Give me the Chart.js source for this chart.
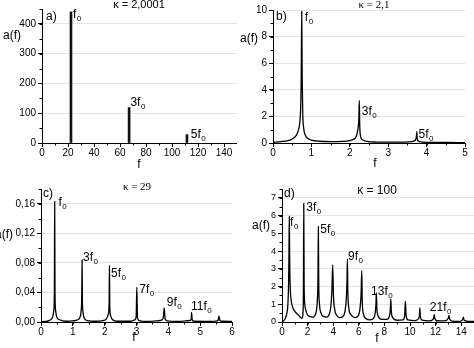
<!DOCTYPE html>
<html>
<head>
<meta charset="utf-8">
<script src="https://cdn.jsdelivr.net/npm/chart.js@4/dist/chart.umd.min.js"></script>
<style>
  html, body { margin: 0; padding: 0; background: #fff; }
  #wrap { position: relative; width: 474px; height: 348px; overflow: hidden; }
  canvas { position: absolute; }
</style>
</head>
<body>
<div id="wrap">
  <canvas id="ca" width="237" height="174" style="left:0;top:0"></canvas>
  <canvas id="cb" width="237" height="174" style="left:237px;top:0"></canvas>
  <canvas id="cc" width="237" height="174" style="left:0;top:174px"></canvas>
  <canvas id="cd" width="237" height="174" style="left:237px;top:174px"></canvas>
</div>
<script>
// a) kappa = 2,0001 : discrete lines
const aFreq = [22.3, 67, 111.5]
const aAmp = [440, 119, 28]

// b) kappa = 2,1
const bFreq = [0, 0.2, 0.4, 0.5, 0.6, 0.65, 0.7, 0.72, 0.735, 0.748, 0.76, 0.775, 0.8, 0.84, 0.9, 1.0, 1.2, 1.5, 1.8, 2.0, 2.1, 2.17, 2.21, 2.235, 2.247, 2.258, 2.28, 2.33, 2.45, 2.7, 3.0, 3.4, 3.6, 3.68, 3.72, 3.735, 3.745, 3.757, 3.8, 3.9, 4.2, 4.6, 5.0]
const bAmp = [0.05, 0.1, 0.18, 0.3, 0.55, 0.85, 1.6, 2.6, 5.0, 9.9, 5.0, 2.2, 1.1, 0.6, 0.35, 0.22, 0.13, 0.1, 0.12, 0.18, 0.28, 0.5, 1.0, 1.8, 3.2, 1.4, 0.5, 0.25, 0.12, 0.07, 0.06, 0.07, 0.1, 0.16, 0.3, 0.5, 0.85, 0.3, 0.12, 0.07, 0.05, 0.04, 0.03]

// c) kappa = 29
const cFreq = [0, 0.2, 0.3, 0.36, 0.4, 0.42, 0.43, 0.44, 0.46, 0.5, 0.58, 0.8, 1.0, 1.15, 1.22, 1.26, 1.28, 1.29, 1.3, 1.32, 1.36, 1.45, 1.7, 1.95, 2.05, 2.11, 2.14, 2.15, 2.16, 2.19, 2.25, 2.4, 2.8, 2.95, 2.99, 3.01, 3.03, 3.08, 3.3, 3.75, 3.84, 3.87, 3.9, 3.97, 4.3, 4.68, 4.72, 4.73, 4.75, 4.8, 5.3, 5.56, 5.59, 5.62, 5.7, 6.0]
const cAmp = [0.0005, 0.001, 0.003, 0.006, 0.015, 0.04, 0.163, 0.04, 0.015, 0.006, 0.003, 0.001, 0.0015, 0.003, 0.006, 0.015, 0.035, 0.084, 0.03, 0.013, 0.005, 0.002, 0.001, 0.002, 0.004, 0.01, 0.025, 0.076, 0.022, 0.008, 0.003, 0.001, 0.001, 0.003, 0.008, 0.047, 0.006, 0.002, 0.0008, 0.002, 0.005, 0.019, 0.004, 0.0015, 0.0008, 0.002, 0.004, 0.013, 0.003, 0.001, 0.0008, 0.002, 0.008, 0.002, 0.001, 0.0008]

// d) kappa = 100
const dFreq = [0, 0.1, 0.25, 0.38, 0.46, 0.51, 0.54, 0.57, 0.6, 0.64, 0.72, 0.85, 1.0, 1.2, 1.4, 1.55, 1.63, 1.67, 1.7, 1.73, 1.78, 1.88, 2.0, 2.2, 2.4, 2.55, 2.68, 2.76, 2.81, 2.84, 2.87, 2.93, 3.05, 3.25, 3.5, 3.7, 3.82, 3.9, 3.96, 4.02, 4.12, 4.3, 4.5, 4.75, 4.92, 5.03, 5.08, 5.11, 5.14, 5.22, 5.4, 5.7, 5.95, 6.1, 6.18, 6.23, 6.27, 6.35, 6.55, 6.9, 7.15, 7.28, 7.34, 7.37, 7.41, 7.5, 7.8, 8.2, 8.4, 8.47, 8.5, 8.54, 8.65, 9.0, 9.45, 9.58, 9.64, 9.7, 9.85, 10.4, 10.68, 10.74, 10.77, 10.81, 10.95, 11.5, 11.8, 11.87, 11.9, 11.94, 12.1, 12.7, 12.98, 13.05, 13.1, 13.3, 13.9, 14.12, 14.17, 14.22, 14.5, 15]
const dAmp = [0, 0.05, 0.2, 0.5, 1.0, 2.0, 3.5, 5.95, 3.5, 2.0, 1.2, 0.8, 0.6, 0.45, 0.3, 0.2, 0.4, 1.5, 6.7, 2.0, 1.0, 0.6, 0.4, 0.3, 0.28, 0.35, 0.6, 1.2, 2.5, 5.38, 2.2, 1.0, 0.5, 0.3, 0.28, 0.45, 0.9, 1.8, 3.22, 1.5, 0.7, 0.35, 0.25, 0.3, 0.6, 1.4, 2.4, 3.56, 1.8, 0.8, 0.4, 0.25, 0.35, 0.8, 1.6, 2.9, 1.2, 0.5, 0.2, 0.12, 0.2, 0.5, 1.0, 1.65, 0.8, 0.35, 0.15, 0.15, 0.35, 0.8, 1.3, 0.6, 0.25, 0.1, 0.12, 0.35, 1.18, 0.35, 0.12, 0.08, 0.2, 0.4, 0.8, 0.3, 0.1, 0.06, 0.15, 0.3, 0.42, 0.2, 0.07, 0.06, 0.2, 0.37, 0.15, 0.05, 0.04, 0.15, 0.28, 0.1, 0.04, 0.03]

const SANS = "'Liberation Sans', Arial, sans-serif"
const SERIF = "'Liberation Serif', 'Times New Roman', serif"

const pts = (xs, ys) => xs.map((x, i) => ({x: x, y: ys[i]}))
const comma = d => v => v.toFixed(d).replace('.', ',')

function drawSub(ctx, x, y, main, sub, size) {
    ctx.font = size + 'px ' + SANS
    ctx.textAlign = 'left'
    ctx.textBaseline = 'alphabetic'
    ctx.fillText(main, x, y)
    const w = ctx.measureText(main).width
    ctx.font = Math.round(size * 0.66) + 'px ' + SANS
    ctx.fillText(sub, x + w + 0.5, y + 3)
}

const texts = {
    id: 'texts',
    afterDraw(chart, args, o) {
        const ctx = chart.ctx
        const xs = chart.scales.x, ys = chart.scales.y
        const area = chart.chartArea
        ctx.save()
        ctx.fillStyle = '#000'
        ctx.strokeStyle = '#000'
        ctx.lineWidth = 1
        // minor ticks
        ctx.beginPath()
        for (let v = xs.min; v <= xs.max + 1e-9; v += o.minorX) {
            const px = Math.round(xs.getPixelForValue(v)) + 0.5
            ctx.moveTo(px, area.bottom)
            ctx.lineTo(px, area.bottom + 2.5)
        }
        for (let v = ys.min; v <= ys.max + 1e-9; v += o.minorY) {
            const py = Math.round(ys.getPixelForValue(v)) + 0.5
            ctx.moveTo(area.left, py)
            ctx.lineTo(area.left - 2.5, py)
        }
        ctx.stroke()
        // peak labels, in data units
        for (const n of o.notes) {
            drawSub(ctx, xs.getPixelForValue(n.x), ys.getPixelForValue(n.y), n.main, '0', 12)
        }
        // fixed texts
        for (const t of o.fixed) {
            ctx.font = t.size + 'px ' + (t.serif ? SERIF : SANS)
            ctx.textAlign = t.align || 'left'
            ctx.textBaseline = 'alphabetic'
            ctx.fillText(t.text, t.x, t.y)
        }
        ctx.restore()
    }
}

function axes(o) {
    const keep = step => s => {
        s.ticks = s.ticks.filter(t => Math.abs(t.value / step - Math.round(t.value / step)) < 1e-6)
    }
    return {
        x: {
            type: 'linear', min: 0, max: o.xMax, offset: false,
            afterBuildTicks: keep(o.xStep),
            afterFit: s => { s.height = 174 - o.bottom },
            ticks: {stepSize: o.xStep, includeBounds: false, font: {family: SANS, size: 10}, color: '#000',
                    padding: 0, maxRotation: 0, autoSkip: false, callback: o.xFmt || (v => v)},
            grid: {drawOnChartArea: false, offset: false, tickLength: 4, tickColor: '#000'},
            border: {color: '#000', width: 1}
        },
        y: {
            min: 0, max: o.yMax,
            afterBuildTicks: keep(o.yStep),
            afterFit: s => { s.width = o.left },
            ticks: {stepSize: o.yStep, includeBounds: false, font: {family: SANS, size: o.ySize || 10}, color: '#000',
                    padding: 2, autoSkip: false, callback: o.yFmt || (v => v)},
            grid: {color: '#e4e4e4', lineWidth: 1, tickLength: 4, tickColor: '#000'},
            border: {color: '#000', width: 1}
        }
    }
}

function make(id, type, datasets, o, plug) {
    return new Chart(document.getElementById(id), {
        type: type,
        data: {datasets: datasets},
        options: {
            responsive: false,
            animation: false,
            layout: {padding: {top: o.top, right: 237 - o.right, left: 0, bottom: 0}},
            plugins: {legend: {display: false}, tooltip: {enabled: false}, texts: plug},
            scales: axes(o)
        },
        plugins: [texts]
    })
}

const line = (xs, ys) => ({
    data: pts(xs, ys), borderColor: '#000', borderWidth: 1.3, pointRadius: 0,
    cubicInterpolationMode: 'monotone', fill: false
})

make('ca', 'bar', [{data: pts(aFreq, aAmp), backgroundColor: '#111', barThickness: 2}],
    {left: 42, top: 9, right: 237, bottom: 143, xMax: 150, xStep: 20, yMax: 450, yStep: 100},
    {minorX: 10, minorY: 50,
     notes: [{x: 23.8, y: 420, main: 'f'}, {x: 68, y: 123, main: '3f'}, {x: 114.5, y: 17, main: '5f'}],
     fixed: [{text: 'κ = 2,0001', x: 139, y: 8, size: 11, align: 'center'},
             {text: 'a)', x: 46, y: 20, size: 12},
             {text: 'a(f)', x: 3, y: 39, size: 12},
             {text: 'f', x: 139, y: 168, size: 12, align: 'center'}]})

make('cb', 'line', [line(bFreq, bAmp)],
    {left: 36, top: 10, right: 228, bottom: 143, xMax: 5, xStep: 1, yMax: 10, yStep: 2},
    {minorX: 0.5, minorY: 1,
     notes: [{x: 0.83, y: 9.2, main: 'f'}, {x: 2.31, y: 2.1, main: '3f'}, {x: 3.79, y: 0.4, main: '5f'}],
     fixed: [{text: 'κ = 2,1', x: 137, y: 8, size: 11, align: 'center', serif: true},
             {text: 'b)', x: 39, y: 20, size: 12},
             {text: 'a(f)', x: 3, y: 42, size: 12},
             {text: 'f', x: 138, y: 167, size: 12, align: 'center'}]})

make('cc', 'line', [line(cFreq, cAmp)],
    {left: 41, top: 15, right: 232, bottom: 148, xMax: 6, xStep: 1, yMax: 0.18, yStep: 0.04,
     yFmt: comma(2)},
    {minorX: 0.5, minorY: 0.02,
     notes: [{x: 0.55, y: 0.157, main: 'f'}, {x: 1.32, y: 0.083, main: '3f'}, {x: 2.2, y: 0.061, main: '5f'},
             {x: 3.09, y: 0.039, main: '7f'}, {x: 3.95, y: 0.021, main: '9f'}, {x: 4.71, y: 0.0157, main: '11f'}],
     fixed: [{text: 'κ = 29', x: 137, y: 16, size: 11, align: 'center', serif: true},
             {text: 'c)', x: 43, y: 23, size: 12},
             {text: 'a(f)', x: -5, y: 64, size: 12},
             {text: 'f', x: 134, y: 167, size: 12, align: 'center'}]})

make('cd', 'line', [line(dFreq, dAmp)],
    {left: 45, top: 15, right: 237, bottom: 148, xMax: 15, xStep: 2, yMax: 7.5, yStep: 1, ySize: 9},
    {minorX: 1, minorY: 0.5,
     notes: [{x: 0.63, y: 5.4, main: 'f'}, {x: 1.9, y: 6.28, main: '3f'}, {x: 2.99, y: 5.0, main: '5f'},
             {x: 5.16, y: 3.5, main: '9f'}, {x: 6.96, y: 1.55, main: '13f'}, {x: 11.55, y: 0.6, main: '21f'}],
     fixed: [{text: 'κ = 100', x: 140, y: 20, size: 12, align: 'center'},
             {text: 'd)', x: 47, y: 23, size: 12},
             {text: 'a(f)', x: 15, y: 55, size: 12},
             {text: 'f', x: 140, y: 168, size: 12, align: 'center'}]})
</script>
</body>
</html>
